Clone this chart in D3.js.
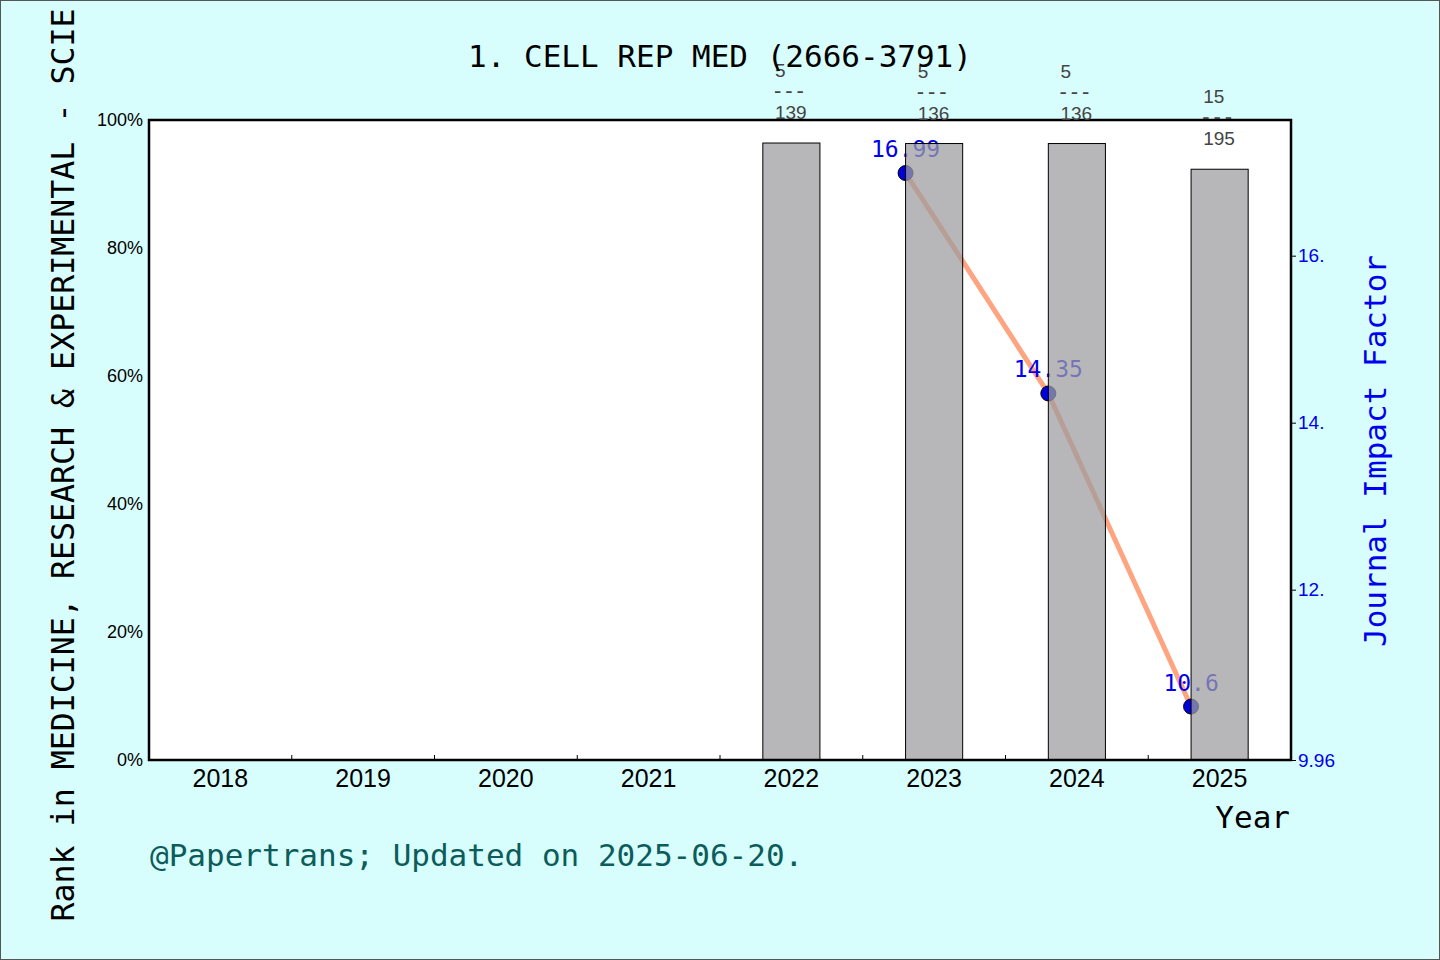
<!DOCTYPE html>
<html>
<head>
<meta charset="utf-8">
<script src="https://cdn.jsdelivr.net/npm/d3@7"></script>
<style>
	body { margin: 0; background: #d8fdfd; }
	svg { display: block; }
</style>
</head>
<body>
<figure id="jifChart" style="margin:0"></figure>
<script>
// chart data
const years = ["2018", "2019", "2020", "2021", "2022", "2023", "2024", "2025"];
const rankYears = ["2022", "2023", "2024", "2025"];
const ranks = [5, 5, 5, 15];
const totals = [139, 136, 136, 195];
const ifYears = ["2023", "2024", "2025"];
const impactFactors = [16.99, 14.35, 10.6];
const pctTicks = [0, 0.2, 0.4, 0.6, 0.8, 1.0];
const ifTicks = [9.96, 12, 14, 16];
const ifTickLabels = ["9.96", "12.", "14.", "16."];

const W = 1440, H = 960;
const margin = { top: 120, bottom: 200, left: 149, right: 149 };
const mono = "'DejaVu Sans Mono', monospace";
const sans = "'Liberation Sans', Arial, sans-serif";

const svg = d3.select("figure#jifChart").append("svg")
	.attr("width", W).attr("height", H);

svg.append("rect").attr("x", 0.5).attr("y", 0.5).attr("width", W - 1).attr("height", H - 1)
	.attr("fill", "#d8fdfd").attr("stroke", "#555").attr("stroke-width", 1);

const width = W - margin.left - margin.right;
const height = H - margin.top - margin.bottom;
const g = svg.append("g").attr("transform", "translate(" + margin.left + "," + margin.top + ")");

const xScale = d3.scaleBand().domain(years).range([0, width]);
const yScale = d3.scaleLinear().domain([0, 1]).range([height, 0]);
const y2Scale = d3.scaleLinear().domain([9.96, 17.625]).range([height, 0]);
const bw = xScale.bandwidth();

// plot background
g.append("rect").attr("width", width).attr("height", height).attr("fill", "white");

// IF line + points (drawn below bars)
const ifData = ifYears.map((y, i) => [xScale(y) + bw * 0.3, y2Scale(impactFactors[i]), impactFactors[i]]);
g.append("path")
	.attr("d", d3.line()(ifData.map(d => [d[0], d[1]])))
	.attr("fill", "none").attr("stroke", "#ff9a72").attr("stroke-width", 5)
	.attr("stroke-opacity", 0.9);
g.selectAll("circle.ifpt").data(ifData).enter().append("circle")
	.attr("class", "ifpt")
	.attr("cx", d => d[0]).attr("cy", d => d[1]).attr("r", 7.5)
	.attr("fill", "#0000dd").attr("stroke", "black").attr("stroke-width", 1);
g.selectAll("text.iflab").data(ifData).enter().append("text")
	.attr("class", "iflab")
	.attr("x", d => d[0]).attr("y", d => d[1] - 16)
	.attr("text-anchor", "middle")
	.attr("font-family", mono).attr("font-size", 23).attr("fill", "#0000ee")
	.text(d => d[2]);

// rank bars (semi-transparent, over the line)
const barData = rankYears.map((y, i) => [y, 1 - ranks[i] / totals[i], ranks[i], totals[i]]);
g.selectAll("rect.bar").data(barData).enter().append("rect")
	.attr("class", "bar")
	.attr("x", d => xScale(d[0]) + bw * 0.3)
	.attr("y", d => yScale(d[1]))
	.attr("width", bw * 0.4)
	.attr("height", d => height - yScale(d[1]))
	.attr("fill", "rgba(158,158,160,0.74)")
	.attr("stroke", "black").attr("stroke-width", 1);

// frame
g.append("rect").attr("width", width).attr("height", height)
	.attr("fill", "none").attr("stroke", "black").attr("stroke-width", 2.5);

// rank labels: rank / --- / total (on top of the frame)
barData.forEach(d => {
	const cx = xScale(d[0]) + bw / 2;
	const top = yScale(d[1]);
	const left = cx - 16.5;
	const t = g.append("text").attr("font-family", sans).attr("font-size", 19).attr("fill", "#444");
	t.append("tspan").attr("x", left).attr("y", top - 66).text(d[2]);
	t.append("tspan").attr("x", left - 1).attr("y", top - 45)
		.attr("font-size", 22).attr("letter-spacing", 4).text("---");
	t.append("tspan").attr("x", left).attr("y", top - 24).text(d[3]);
});

// minor x ticks at band boundaries
g.selectAll("line.xminor").data(years.slice(1)).enter().append("line")
	.attr("x1", d => xScale(d)).attr("x2", d => xScale(d))
	.attr("y1", height).attr("y2", height - 5)
	.attr("stroke", "black").attr("stroke-width", 1);

// X Axis
const xAxis = g.append("g").attr("transform", "translate(0," + height + ")")
	.call(d3.axisBottom(xScale).tickSize(0).tickPadding(4));
xAxis.select(".domain").remove();
xAxis.selectAll(".tick text").attr("font-family", sans).attr("font-size", 25).attr("fill", "black")
	.attr("dy", "0.9em");

// Y Axis (left)
const yAxis = g.append("g")
	.call(d3.axisLeft(yScale).tickValues(pctTicks).tickSize(0).tickPadding(6)
		.tickFormat(d => Math.round(d * 100) + "%"));
yAxis.select(".domain").remove();
yAxis.selectAll(".tick text").attr("font-family", sans).attr("font-size", 18).attr("fill", "black");

// Y Axis (right)
const y2Axis = g.append("g").attr("transform", "translate(" + width + ",0)")
	.call(d3.axisRight(y2Scale).tickValues(ifTicks).tickSize(5).tickPadding(2)
		.tickFormat((d, i) => ifTickLabels[i]));
y2Axis.select(".domain").remove();
y2Axis.selectAll(".tick line").attr("stroke", "black");
y2Axis.selectAll(".tick text").attr("font-family", sans).attr("font-size", 19).attr("fill", "#0000ee");

// titles
svg.append("text").attr("x", 720).attr("y", 67).attr("text-anchor", "middle")
	.attr("font-family", mono).attr("font-size", 31).attr("fill", "black")
	.text("1. CELL REP MED (2666-3791)");
svg.append("text").attr("transform", "translate(74,465) rotate(-90)").attr("text-anchor", "middle")
	.attr("font-family", mono).attr("font-size", 31.6).attr("fill", "black")
	.text("Rank in MEDICINE, RESEARCH & EXPERIMENTAL - SCIE");
svg.append("text").attr("transform", "translate(1386,451) rotate(-90)").attr("text-anchor", "middle")
	.attr("font-family", mono).attr("font-size", 31).attr("fill", "#0000ee")
	.text("Journal Impact Factor");
svg.append("text").attr("x", 1290).attr("y", 828).attr("text-anchor", "end")
	.attr("font-family", mono).attr("font-size", 31).attr("fill", "black")
	.text("Year");
svg.append("text").attr("x", 150).attr("y", 866)
	.attr("font-family", mono).attr("font-size", 31).attr("fill", "#0b5c5a")
	.text("@Papertrans; Updated on 2025-06-20.");
</script>
</body>
</html>
